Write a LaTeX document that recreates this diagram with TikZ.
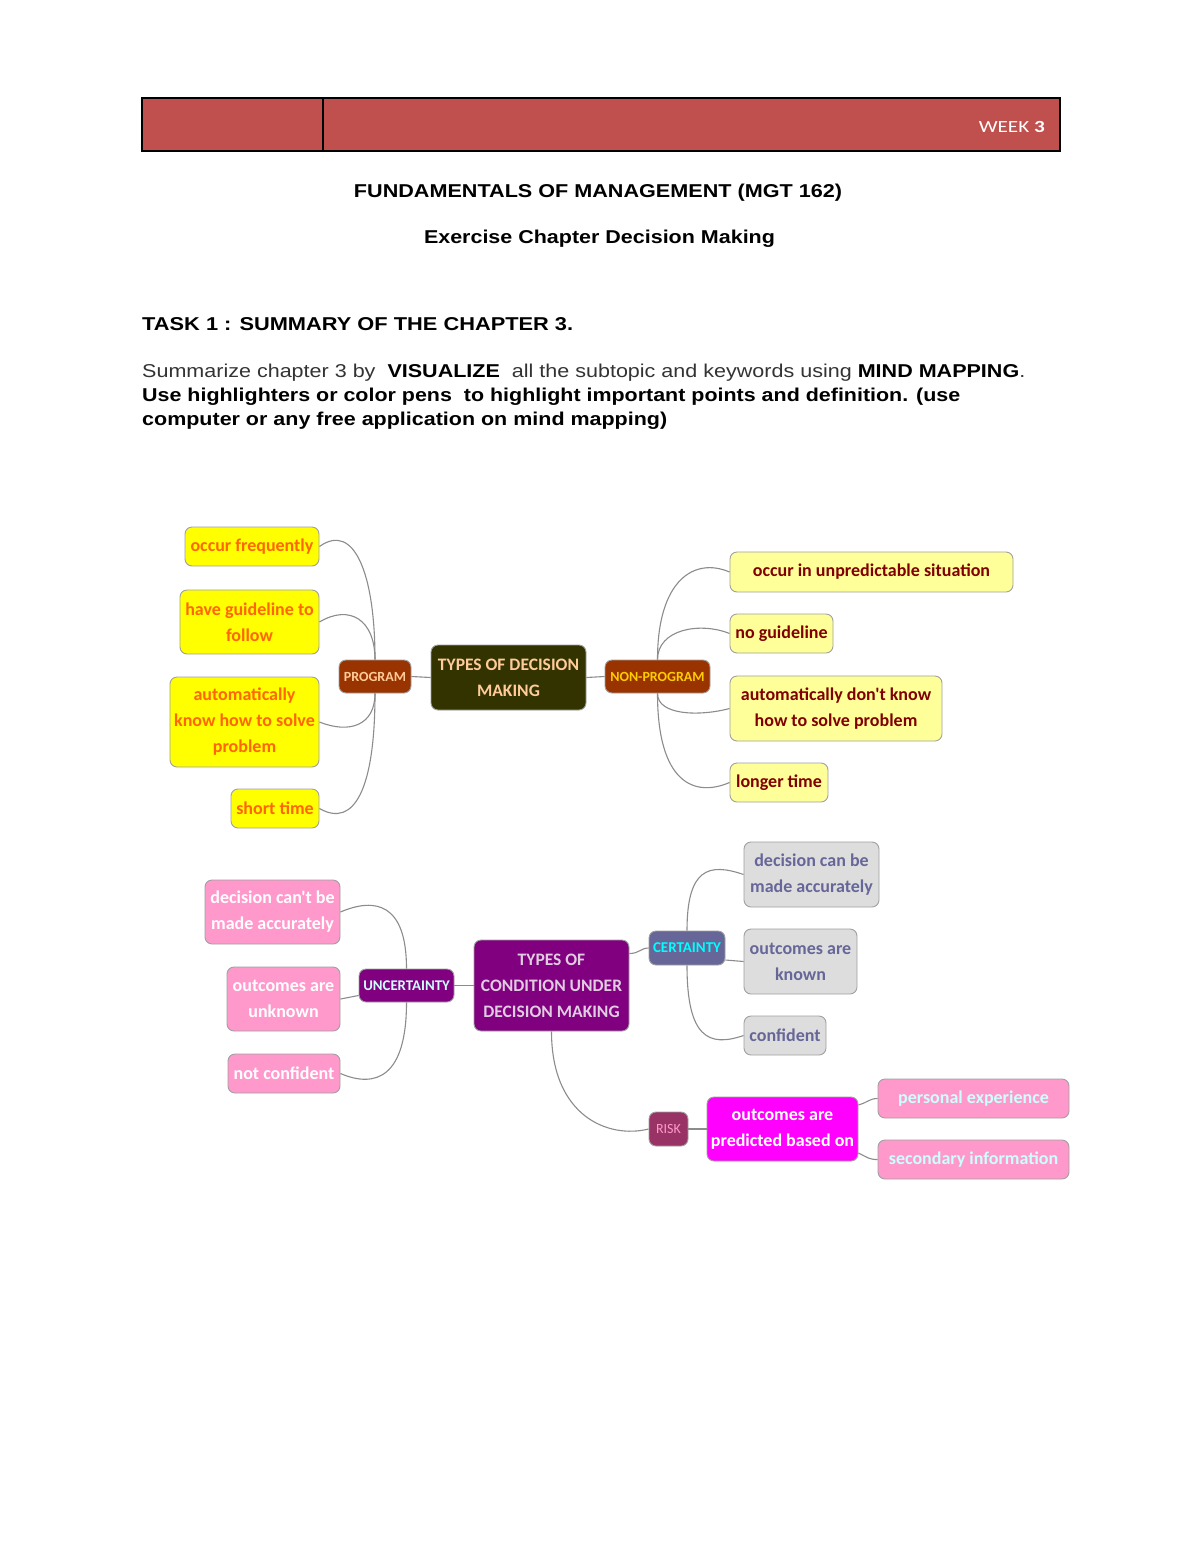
\documentclass[tikz,border=0pt]{standalone}
\usepackage{fontspec}
\usepackage{graphicx}
\setmainfont{Liberation Sans}
\newfontfamily\mmfont{Carlito}
\definecolor{hdrred}{HTML}{C0504D}
\definecolor{ylw}{HTML}{FFFF00}
\definecolor{orng}{HTML}{FF6600}
\definecolor{lylw}{HTML}{FFFF99}
\definecolor{maroon}{HTML}{800000}
\definecolor{brwn}{HTML}{993300}
\definecolor{tan}{HTML}{FFCC99}
\definecolor{gold}{HTML}{FFCC00}
\definecolor{olive}{HTML}{333300}
\definecolor{purp}{HTML}{800080}
\definecolor{lpurp}{HTML}{E0CCE0}
\definecolor{lcyan}{HTML}{CCFFFF}
\definecolor{slate}{HTML}{666699}
\definecolor{cyan}{HTML}{00FFFF}
\definecolor{plum}{HTML}{993366}
\definecolor{pink}{HTML}{FF99CC}
\definecolor{lgray}{HTML}{DDDDDD}
\definecolor{magen}{HTML}{FF00FF}
\definecolor{bordr}{HTML}{A0A0A0}
\definecolor{connc}{HTML}{8C8C8C}
\definecolor{txtgray}{HTML}{333333}
\tikzset{
  conn/.style={draw=connc, line width=1.1pt},
  box/.style={rounded corners=7pt, draw=bordr, line width=0.9pt, inner sep=0pt,
    align=center, font=\mmfont\bfseries\fontsize{18}{26}\selectfont},
  smallbox/.style={box, font=\mmfont\bfseries\fontsize{14}{20}\selectfont},
  centerbox/.style={box, font=\mmfont\bfseries\fontsize{17.5}{26}\selectfont},
  hdr/.style={inner sep=0pt, anchor=base west},
}
\begin{document}
\begin{tikzpicture}[x=1pt,y=-1pt]
\useasboundingbox[fill=white] (0,0) rectangle (1200,1553);
% header bar
\draw[fill=hdrred, draw=black, line width=2.5pt] (142,98) rectangle (1060,151);
\draw[black, line width=2.5pt] (323,98) -- (323,151);
\node[inner sep=0pt, anchor=base east, text=white] (week) at (1045,132) {\resizebox{66pt}{\height}{\mmfont\fontsize{17}{20}\selectfont WEEK \textbf{3}}};
% titles
\node[inner sep=0pt, anchor=base] (title) at (598,197) {\resizebox{488pt}{\height}{\fontsize{18.6}{22}\selectfont\bfseries FUNDAMENTALS OF MANAGEMENT (MGT 162)}};
\node[inner sep=0pt, anchor=base] (sub) at (599.5,243) {\resizebox{351pt}{\height}{\fontsize{18.6}{22}\selectfont\bfseries Exercise Chapter Decision Making}};
\node[hdr] (task) at (142,330) {\resizebox{431pt}{\height}{\fontsize{18.6}{22}\selectfont\bfseries TASK 1 : SUMMARY OF THE CHAPTER 3.}};
\node[hdr] (l1) at (142,377) {\resizebox{883pt}{\height}{\fontsize{18.6}{22}\selectfont\color{txtgray}Summarize chapter 3 by \ \textbf{\color{black}VISUALIZE} \ all the subtopic and keywords using \textbf{\color{black}MIND MAPPING}.}};
\node[hdr] (l2) at (142,401) {\resizebox{818pt}{\height}{\fontsize{18.6}{22}\selectfont\bfseries Use highlighters or color pens \ to highlight important points and definition. (use}};
\node[hdr] (l3) at (142,425) {\resizebox{525pt}{\height}{\fontsize{18.6}{22}\selectfont\bfseries computer or any free application on mind mapping)}};

% ===== top mind map =====
\node[centerbox, fill=olive, text=tan, minimum width=155pt, minimum height=65pt] (tdm) at (508.5,677.5) {TYPES OF DECISION\\MAKING};
\node[smallbox, fill=brwn, text=tan, minimum width=72pt, minimum height=33pt] (prog) at (375,676.5) {PROGRAM};
\node[smallbox, fill=brwn, text=gold, minimum width=105pt, minimum height=33pt] (nonprog) at (657.5,676.5) {NON-PROGRAM};

\node[box, fill=ylw, text=orng, minimum width=134pt, minimum height=39pt] (p1) at (252,546.5) {occur frequently};
\node[box, fill=ylw, text=orng, minimum width=139pt, minimum height=64pt] (p2) at (249.5,622) {have guideline to\\follow};
\node[box, fill=ylw, text=orng, minimum width=149pt, minimum height=90pt] (p3) at (244.5,722) {automatically\\know how to solve\\problem};
\node[box, fill=ylw, text=orng, minimum width=88pt, minimum height=39pt] (p4) at (275,808.5) {short time};

\node[box, fill=lylw, text=maroon, minimum width=283pt, minimum height=40pt] (n1) at (871.5,572) {occur in unpredictable situation};
\node[box, fill=lylw, text=maroon, minimum width=103pt, minimum height=39pt] (n2) at (781.5,633.5) {no guideline};
\node[box, fill=lylw, text=maroon, minimum width=212pt, minimum height=65pt] (n3) at (836,708.5) {automatically don't know\\how to solve problem};
\node[box, fill=lylw, text=maroon, minimum width=98pt, minimum height=39pt] (n4) at (779,782.5) {longer time};

\draw[conn] (prog.east) -- (tdm.west);
\draw[conn] (tdm.east) -- (nonprog.west);
\draw[conn] (prog.north) .. controls +(0,-85) and +(35,-25) .. (p1.east);
\draw[conn] (prog.north) .. controls +(0,-40) and +(30,-18) .. (p2.east);
\draw[conn] (prog.south) .. controls +(0,32) and +(30,12) .. (p3.east);
\draw[conn] (prog.south) .. controls +(0,95) and +(35,20) .. (p4.east);
\draw[conn] (nonprog.north) .. controls +(0,-80) and +(-35,-15) .. (n1.west);
\draw[conn] (nonprog.north) .. controls +(0,-30) and +(-30,-12) .. (n2.west);
\draw[conn] (nonprog.south) .. controls +(0,22) and +(-30,8) .. (n3.west);
\draw[conn] (nonprog.south) .. controls +(0,90) and +(-35,15) .. (n4.west);

% ===== bottom mind map =====
\node[centerbox, fill=purp, text=lpurp, minimum width=155pt, minimum height=91pt] (tc) at (551.5,985.5) {TYPES OF\\CONDITION UNDER\\DECISION MAKING};
\node[smallbox, fill=purp, text=lcyan, minimum width=95pt, minimum height=33pt, font=\mmfont\bfseries\fontsize{14.8}{20}\selectfont] (unc) at (406.5,985.5) {UNCERTAINTY};
\node[smallbox, fill=slate, text=cyan, minimum width=76pt, minimum height=34pt, font=\mmfont\bfseries\fontsize{15}{20}\selectfont] (cert) at (687,948) {CERTAINTY};
\node[smallbox, fill=plum, text=pink, minimum width=39pt, minimum height=34pt, font=\mmfont\fontsize{14}{20}\selectfont] (risk) at (668.5,1129) {RISK};

\node[box, fill=pink, text=white, minimum width=135pt, minimum height=64pt] (u1) at (272.5,912) {decision can't be\\made accurately};
\node[box, fill=pink, text=white, minimum width=113pt, minimum height=64pt] (u2) at (283.5,999) {outcomes are\\unknown};
\node[box, fill=pink, text=white, minimum width=112pt, minimum height=39pt] (u3) at (284,1073.5) {not confident};

\node[box, fill=lgray, text=slate, minimum width=135pt, minimum height=65pt] (c1) at (811.5,874.5) {decision can be\\made accurately};
\node[box, fill=lgray, text=slate, minimum width=113pt, minimum height=65pt] (c2) at (800.5,961.5) {outcomes are\\known};
\node[box, fill=lgray, text=slate, minimum width=82pt, minimum height=39pt] (c3) at (785,1035.5) {confident};

\node[box, fill=magen, text=white, minimum width=151pt, minimum height=64pt] (r1) at (782.5,1129) {outcomes are\\predicted based on};
\node[box, fill=pink, text=lcyan, minimum width=191pt, minimum height=39pt] (r2) at (973.5,1098.5) {personal experience};
\node[box, fill=pink, text=lcyan, minimum width=191pt, minimum height=39pt] (r3) at (973.5,1159.5) {secondary information};

\draw[conn] (unc.east) -- (tc.west);
\draw[conn] (unc.north) .. controls +(0,-65) and +(35,-15) .. (u1.east);
\draw[conn] ([yshift=-10pt]unc.west) -- (u2.east);
\draw[conn] (unc.south) .. controls +(0,75) and +(35,15) .. (u3.east);
\draw[conn] (tc.south) .. controls +(0,85) and +(-40,10) .. (risk.west);
\draw[conn] ([yshift=32pt]tc.east) .. controls +(10,0) and +(-8,0) .. (cert.west);
\draw[conn] (cert.north) .. controls +(0,-62) and +(-35,-12) .. (c1.west);
\draw[conn] ([yshift=-12pt]cert.east) -- (c2.west);
\draw[conn] (cert.south) .. controls +(0,72) and +(-35,12) .. (c3.west);
\draw[conn] (risk.east) -- (r1.west);
\draw[conn] ([yshift=24pt]r1.east) .. controls +(10,-3) and +(-8,0) .. (r2.west);
\draw[conn] ([yshift=-24pt]r1.east) .. controls +(10,5) and +(-8,0) .. (r3.west);
\end{tikzpicture}
\end{document}
